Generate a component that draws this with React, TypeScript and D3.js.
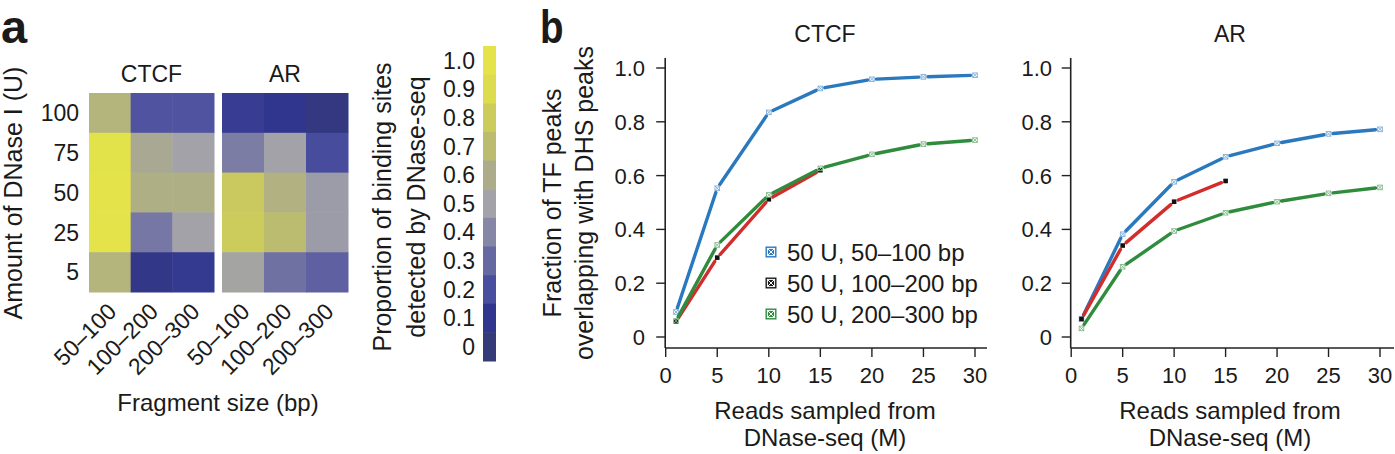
import React from "react";
import * as d3 from "d3";

const fragLabels = ["50–100", "100–200", "200–300"];
const doseLabels = ["100", "75", "50", "25", "5"];
const ctcfHeat = [
  [0.65, 0.22, 0.22],
  [0.98, 0.57, 0.5],
  [1.0, 0.62, 0.62],
  [1.0, 0.35, 0.5],
  [0.65, 0.07, 0.12],
];
const arHeat = [
  [0.13, 0.1, 0.04],
  [0.37, 0.5, 0.19],
  [0.78, 0.63, 0.48],
  [0.8, 0.7, 0.48],
  [0.52, 0.33, 0.27],
];
const cbValues = [1.0, 0.9, 0.8, 0.7, 0.6, 0.5, 0.4, 0.3, 0.2, 0.1, 0];
const cbLabels = ["1.0", "0.9", "0.8", "0.7", "0.6", "0.5", "0.4", "0.3", "0.2", "0.1", "0"];
const stopValues = [0, 0.1, 0.2, 0.3, 0.4, 0.5, 0.6, 0.7, 0.8, 0.9, 1.0];
const stopColors = ["#353a78", "#30358e", "#4a4e9e", "#6668a2", "#8686a6", "#a2a2a8", "#acac8a", "#bcbc70", "#cccc5c", "#dcdc4e", "#e4e44a"];

const readsX = [1, 5, 10, 15, 20, 25, 30];
const readsXShort = [1, 5, 10, 15];
const ctcfBlue = [0.093, 0.553, 0.835, 0.924, 0.958, 0.967, 0.973];
const ctcfRed = [0.057, 0.295, 0.512, 0.62];
const ctcfGreen = [0.06, 0.342, 0.528, 0.627, 0.679, 0.717, 0.732];
const arBlue = [0.067, 0.382, 0.577, 0.67, 0.72, 0.755, 0.772];
const arRed = [0.067, 0.34, 0.503, 0.58];
const arGreen = [0.032, 0.261, 0.394, 0.462, 0.503, 0.534, 0.556];
const xTicks = [0, 5, 10, 15, 20, 25, 30];
const yTicks = [0, 0.2, 0.4, 0.6, 0.8, 1.0];
const yTickLabels = ["0", "0.2", "0.4", "0.6", "0.8", "1.0"];
const legendLabels = ["50 U, 50–100 bp", "50 U, 100–200 bp", "50 U, 200–300 bp"];

const BLUE = "#2a78bd";
const RED = "#d22c2c";
const GREEN = "#2f8c3d";
const FONT = "'Liberation Sans', Arial, Helvetica, sans-serif";

const color = d3.scaleLinear<string>().domain(stopValues).range(stopColors).interpolate(d3.interpolateRgb);

function Heat({ data, x0, x1, title }: { data: number[][]; x0: number; x1: number; title: string }) {
  const xs = d3.scaleBand<string>().domain(fragLabels).range([x0, x1]);
  const ys = d3.scaleBand<string>().domain(doseLabels).range([93, 292]);
  return (
    <g>
      {data.map((row, i) =>
        row.map((v, j) => (
          <rect key={`${i}-${j}`} x={xs(fragLabels[j])!} y={ys(doseLabels[i])!} width={xs.bandwidth() + 0.5} height={ys.bandwidth() + 0.5} fill={color(v)} />
        ))
      )}
      <text x={(x0 + x1) / 2} y={82} textAnchor="middle" fontSize={23}>{title}</text>
      {fragLabels.map((l) => {
        const cx = xs(l)! + xs.bandwidth() / 2 + 8;
        return (
          <text key={l} transform={`translate(${cx},313) rotate(-45)`} textAnchor="end" fontSize={23}>{l}</text>
        );
      })}
    </g>
  );
}

function Marker({ x, y, c, black }: { x: number; y: number; c: string; black?: boolean }) {
  const s = 2.3;
  if (black) return <rect x={x - s} y={y - s} width={2 * s} height={2 * s} fill="#111" />;
  const light = d3.interpolateRgb(c, "#ffffff")(0.4);
  return (
    <g stroke={light} strokeWidth={0.9} fill="none">
      <rect x={x - s} y={y - s} width={2 * s} height={2 * s} />
      <line x1={x - s} y1={y - s} x2={x + s} y2={y + s} />
      <line x1={x - s} y1={y + s} x2={x + s} y2={y - s} />
    </g>
  );
}

function Series({ xsV, ysV, xs, ys, c, black }: any) {
  const pts = xsV.map((v: number, i: number) => [xs(v), ys(ysV[i])]);
  const gap = 4.5;
  const segs: number[][] = [];
  for (let i = 0; i < pts.length - 1; i++) {
    const [ax, ay] = pts[i];
    const [bx, by] = pts[i + 1];
    const len = Math.hypot(bx - ax, by - ay);
    if (len <= 2 * gap) continue;
    const dx = (bx - ax) / len, dy = (by - ay) / len;
    segs.push([ax + dx * gap, ay + dy * gap, bx - dx * gap, by - dy * gap]);
  }
  return (
    <g>
      {segs.map((s, i) => (
        <line key={i} x1={s[0]} y1={s[1]} x2={s[2]} y2={s[3]} stroke={c} strokeWidth={3.4} strokeLinecap="round" />
      ))}
      {pts.map((p: number[], i: number) => (
        <Marker key={i} x={p[0]} y={p[1]} c={c} black={black} />
      ))}
    </g>
  );
}

function LinePanel({ left, right, xEnd, title, blue, red, green, tickRight, titleX, legend }: any) {
  const xs = d3.scaleLinear().domain([0, 30]).range([left, right]);
  const ys = d3.scaleLinear().domain([0, 1]).range([337, 68]);
  const ax = left - 0.5;
  return (
    <g>
      <text x={titleX} y={42} textAnchor="middle" fontSize={23}>{title}</text>
      <line x1={ax} y1={58} x2={ax} y2={348} stroke="#222" strokeWidth={1.6} />
      <line x1={ax} y1={348} x2={xEnd} y2={348} stroke="#222" strokeWidth={1.6} />
      {yTicks.map((t, i) => (
        <g key={t}>
          <line x1={ax - 9} x2={ax} y1={ys(t)} y2={ys(t)} stroke="#222" strokeWidth={1.4} />
          <text x={tickRight} y={ys(t)} dy="0.36em" textAnchor="end" fontSize={22}>{yTickLabels[i]}</text>
        </g>
      ))}
      {xTicks.map((t) => (
        <g key={t}>
          <line x1={xs(t)} x2={xs(t)} y1={348} y2={357} stroke="#222" strokeWidth={1.4} />
          <text x={xs(t)} y={383} textAnchor="middle" fontSize={22}>{t}</text>
        </g>
      ))}
      <text x={titleX} y={419} textAnchor="middle" fontSize={24}>Reads sampled from</text>
      <text x={titleX} y={446} textAnchor="middle" fontSize={24}>DNase-seq (M)</text>
      <Series xsV={readsX} ysV={blue} xs={xs} ys={ys} c={BLUE} />
      <Series xsV={readsXShort} ysV={red} xs={xs} ys={ys} c={RED} black />
      <Series xsV={readsX} ysV={green} xs={xs} ys={ys} c={GREEN} />
      {legend &&
        legendLabels.map((l, i) => {
          const cy = 252 + i * 31;
          const cx = 771;
          const c = [BLUE, "#1a1a1a", GREEN][i];
          return (
            <g key={l}>
              <rect x={cx - 5.5} y={cy - 5.5} width={11} height={11} fill={c} />
              <g stroke="#fff" strokeWidth={1} fill="none">
                <rect x={cx - 3.6} y={cy - 3.6} width={7.2} height={7.2} />
                <line x1={cx - 3.6} y1={cy - 3.6} x2={cx + 3.6} y2={cy + 3.6} />
                <line x1={cx - 3.6} y1={cy + 3.6} x2={cx + 3.6} y2={cy - 3.6} />
              </g>
              <text x={787} y={cy} dy="0.36em" fontSize={24}>{l}</text>
            </g>
          );
        })}
    </g>
  );
}

export default function App() {
  const cb = d3.scaleBand<number>().domain(cbValues).range([46, 361]);
  return (
    <svg width={1395} height={454} style={{ position: "absolute", left: 0, top: 0, background: "#fff" }} fontFamily={FONT} fill="#1a1a1a">
      <rect x={0} y={0} width={1395} height={454} fill="#fff" />
      {/* panel a */}
      <text x={1} y={43} fontSize={47} fontWeight="bold">a</text>
      <Heat data={ctcfHeat} x0={89} x1={214} title="CTCF" />
      <Heat data={arHeat} x0={222} x1={348} title="AR" />
      {doseLabels.map((l) => {
        const ys = d3.scaleBand<string>().domain(doseLabels).range([93, 292]);
        return (
          <text key={l} x={79} y={ys(l)! + ys.bandwidth() / 2} dy="0.36em" textAnchor="end" fontSize={23}>{l}</text>
        );
      })}
      <text transform="translate(22,193) rotate(-90)" textAnchor="middle" fontSize={25}>Amount of DNase I (U)</text>
      <text x={218} y={411} textAnchor="middle" fontSize={24}>Fragment size (bp)</text>
      {cbValues.map((v, i) => (
        <g key={v}>
          <rect x={483} y={cb(v)!} width={13} height={cb.bandwidth() + 0.5} fill={color(v)} />
          <text x={475} y={cb(v)! + cb.bandwidth() / 2} dy="0.36em" textAnchor="end" fontSize={23}>{cbLabels[i]}</text>
        </g>
      ))}
      <text transform="translate(391,207) rotate(-90)" textAnchor="middle" fontSize={25}>Proportion of binding sites</text>
      <text transform="translate(425,207) rotate(-90)" textAnchor="middle" fontSize={25}>detected by DNase-seq</text>
      {/* panel b */}
      <text transform="translate(540,43) scale(0.82,1)" fontSize={47} fontWeight="bold">b</text>
      <text transform="translate(561,203) rotate(-90)" textAnchor="middle" fontSize={25}>Fraction of TF peaks</text>
      <text transform="translate(593,203) rotate(-90)" textAnchor="middle" fontSize={25}>overlapping with DHS peaks</text>
      <LinePanel left={665.7} right={975} xEnd={987} title="CTCF" titleX={825} tickRight={645} blue={ctcfBlue} red={ctcfRed} green={ctcfGreen} legend />
      <LinePanel left={1071.2} right={1380} xEnd={1394} title="AR" titleX={1230} tickRight={1052} blue={arBlue} red={arRed} green={arGreen} />
    </svg>
  );
}
